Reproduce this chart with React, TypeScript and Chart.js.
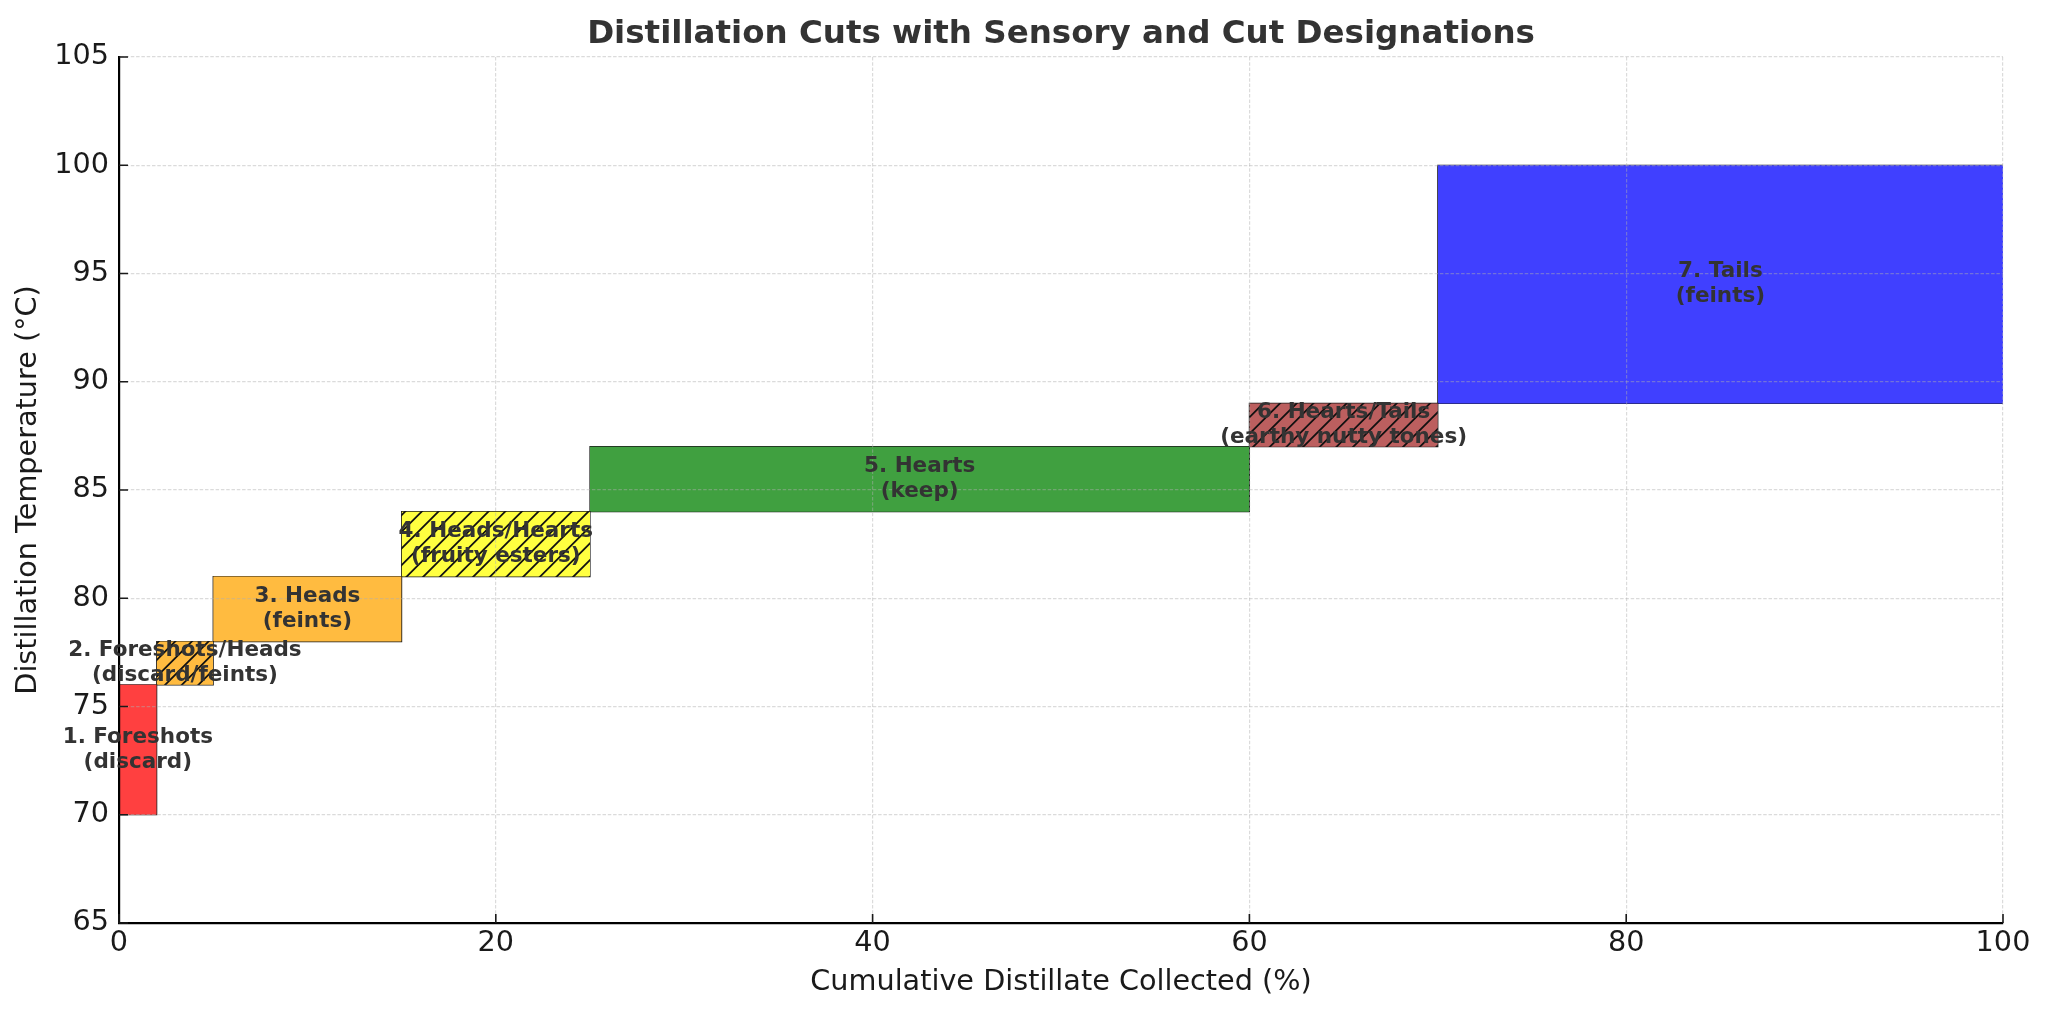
import { useEffect, useRef } from "react";
import { Chart, registerables } from "chart.js";

Chart.register(...registerables);

// distillation cuts: x = cumulative % collected, y = temperature band (°C)
const cutNames = [
  "1. Foreshots",
  "2. Foreshots/Heads",
  "3. Heads",
  "4. Heads/Hearts",
  "5. Hearts",
  "6. Hearts/Tails",
  "7. Tails",
];
const cutNotes = [
  "(discard)",
  "(discard/feints)",
  "(feints)",
  "(fruity esters)",
  "(keep)",
  "(earthy nutty tones)",
  "(feints)",
];
const cutStart = [0, 2, 5, 15, 25, 60, 70];
const cutEnd = [2, 5, 15, 25, 60, 70, 100];
const tempLow = [70, 76, 78, 81, 84, 87, 89];
const tempHigh = [76, 78, 81, 84, 87, 89, 100];
const cutHatched = [false, true, false, true, false, true, false];

const cutColors = ["#ff4040", "#ffbb40", "#ffbb40", "#ffff40", "#40a040", "#bc5f5f", "#4040ff"];

const TITLE = "Distillation Cuts with Sensory and Cut Designations";
const FONT = "'DejaVu Sans', 'Liberation Sans', sans-serif";
const TEXT = "#1a1a1a";
const GRID = "rgba(176, 176, 176, 0.45)";

function makeHatch(color: string) {
  const size = 50;
  const c = document.createElement("canvas");
  c.width = size;
  c.height = size;
  const g = c.getContext("2d")!;
  g.fillStyle = color;
  g.fillRect(0, 0, size, size);
  g.strokeStyle = "#111111";
  g.lineWidth = 1.8;
  g.beginPath();
  for (let k = 0; k <= 6; k++) {
    const off = (k * size) / 3;
    g.moveTo(-10, off + 10);
    g.lineTo(off + 10, -10);
  }
  g.stroke();
  return g.createPattern(c, "repeat")!;
}

const overlay = {
  id: "overlay",
  afterDraw(chart: any) {
    const { ctx, chartArea } = chart;
    const x = chart.scales.x;
    const y = chart.scales.y;
    ctx.save();

    // inward tick marks
    ctx.strokeStyle = TEXT;
    ctx.lineWidth = 1.6;
    ctx.beginPath();
    x.ticks.forEach((t: any) => {
      const px = x.getPixelForValue(t.value);
      ctx.moveTo(px, chartArea.bottom);
      ctx.lineTo(px, chartArea.bottom - 9);
    });
    y.ticks.forEach((t: any) => {
      const py = y.getPixelForValue(t.value);
      ctx.moveTo(chartArea.left, py);
      ctx.lineTo(chartArea.left + 9, py);
    });
    ctx.stroke();

    // cut labels in the middle of each band
    ctx.fillStyle = "#333333";
    ctx.textAlign = "center";
    ctx.textBaseline = "middle";
    ctx.font = `bold 21.5px ${FONT}`;
    cutNames.forEach((name, i) => {
      const cx = x.getPixelForValue((cutStart[i] + cutEnd[i]) / 2);
      const cy = y.getPixelForValue((tempLow[i] + tempHigh[i]) / 2);
      ctx.fillText(name, cx, cy - 12.5);
      ctx.fillText(cutNotes[i], cx, cy + 12.5);
    });

    // title centred on the plot area
    ctx.font = `bold 32.5px ${FONT}`;
    ctx.fillText(TITLE, (chartArea.left + chartArea.right) / 2, 34.5);
    ctx.restore();
  },
};

export default function App() {
  const canvasRef = useRef<HTMLCanvasElement | null>(null);

  useEffect(() => {
    if (!canvasRef.current) return;

    const datasets: any[] = [];
    cutNames.forEach((name, i) => {
      const fillColor = cutHatched[i] ? makeHatch(cutColors[i]) : cutColors[i];
      // filled band
      datasets.push({
        label: name,
        data: [
          { x: cutStart[i], y: tempHigh[i] },
          { x: cutEnd[i], y: tempHigh[i] },
        ],
        fill: { value: tempLow[i] },
        backgroundColor: fillColor,
        borderColor: "transparent",
        borderWidth: 0,
        pointRadius: 0,
      });
      // outline
      datasets.push({
        label: name + " edge",
        data: [
          { x: cutStart[i], y: tempLow[i] },
          { x: cutStart[i], y: tempHigh[i] },
          { x: cutEnd[i], y: tempHigh[i] },
          { x: cutEnd[i], y: tempLow[i] },
          { x: cutStart[i], y: tempLow[i] },
        ],
        fill: false,
        borderColor: "#1a1a1a",
        borderWidth: 1.2,
        pointRadius: 0,
      });
    });

    const chart = new Chart(canvasRef.current, {
      type: "line",
      data: { datasets },
      options: {
        animation: false,
        responsive: true,
        maintainAspectRatio: false,
        events: [],
        layout: { padding: { top: 57, right: 45, bottom: 0, left: 0 } },
        plugins: {
          legend: { display: false },
          tooltip: { enabled: false },
          title: { display: false },
        },
        scales: {
          x: {
            type: "linear",
            min: 0,
            max: 100,
            ticks: { stepSize: 20, padding: 3, color: TEXT, font: { family: FONT, size: 28.7 } },
            grid: { color: GRID, lineWidth: 1.2, drawTicks: false, z: 1 },
            border: { display: true, color: "#000000", width: 2.2, z: 2, dash: [3.5, 1.8] },
            title: {
              display: true,
              text: "Cumulative Distillate Collected (%)",
              color: TEXT,
              font: { family: FONT, size: 28.7 },
              padding: { top: 0, bottom: 16 },
            },
            afterFit: (s: any) => {
              s.height = 93;
            },
          },
          y: {
            type: "linear",
            min: 65,
            max: 105,
            ticks: { stepSize: 5, padding: 10, color: TEXT, font: { family: FONT, size: 28.7 } },
            grid: { color: GRID, lineWidth: 1.2, drawTicks: false, z: 1 },
            border: { display: true, color: "#000000", width: 2.2, z: 2, dash: [3.5, 1.8] },
            title: {
              display: true,
              text: "Distillation Temperature (°C)",
              color: TEXT,
              font: { family: FONT, size: 28.7 },
              padding: { top: 11, bottom: 0 },
            },
            afterFit: (s: any) => {
              s.width = 119;
            },
          },
        },
      },
      plugins: [overlay],
    });

    return () => {
      chart.destroy();
    };
  }, []);

  return (
    <div
      style={{
        position: "absolute",
        left: 0,
        top: 0,
        width: 2048,
        height: 1016,
        background: "#ffffff",
      }}
    >
      <canvas ref={canvasRef}></canvas>
    </div>
  );
}
